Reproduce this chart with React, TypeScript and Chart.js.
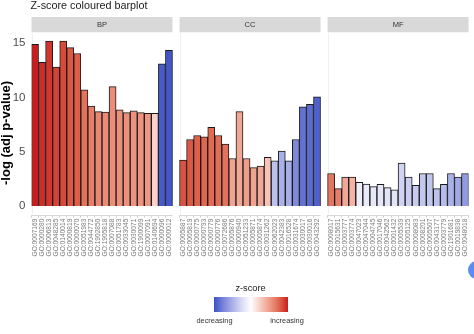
import React, { useEffect, useRef } from "react";
import { Chart, registerables } from "chart.js";
Chart.register(...registerables);

const panelNames = ["BP", "CC", "MF"];

const bpTerms = ["GO:0007169","GO:0000280","GO:0006813","GO:0048285","GO:0140014","GO:0000819","GO:0000070","GO:0051983","GO:0044772","GO:1902850","GO:1905818","GO:0007088","GO:0051783","GO:0033045","GO:0030071","GO:1900099","GO:0007091","GO:0140694","GO:0000096","GO:0000012"];
const bpValues = [14.9, 13.25, 15.2, 12.8, 15.2, 14.6, 14.05, 10.7, 9.2, 8.7, 8.65, 11.0, 8.86, 8.6, 8.77, 8.6, 8.53, 8.53, 13.1, 14.35];
const bpZ = [1.0, 0.95, 0.92, 0.88, 0.85, 0.8, 0.78, 0.7, 0.64, 0.6, 0.58, 0.57, 0.56, 0.56, 0.55, 0.55, 0.53, 0.22, -0.95, -0.97];

const ccTerms = ["GO:0005887","GO:0005819","GO:0000775","GO:0000793","GO:0000779","GO:0000776","GO:0072686","GO:0005876","GO:0000940","GO:0051233","GO:0005871","GO:0005874","GO:0031262","GO:0062023","GO:0042383","GO:0016528","GO:0031674","GO:0030017","GO:0030016","GO:0043292"];
const ccValues = [4.23, 6.13, 6.5, 6.38, 7.24, 6.5, 5.7, 4.38, 8.7, 4.38, 3.53, 3.68, 4.48, 4.17, 5.06, 4.17, 6.13, 9.14, 9.38, 10.06];
const ccZ = [0.82, 0.8, 0.77, 0.75, 0.73, 0.72, 0.7, 0.47, 0.45, 0.5, 0.47, 0.45, 0.3, -0.4, -0.5, -0.52, -0.72, -0.84, -0.87, -0.92];

const mfTerms = ["GO:0008017","GO:0015631","GO:0003777","GO:0003774","GO:0047023","GO:0047044","GO:0004745","GO:0017046","GO:0042562","GO:0001432","GO:0005539","GO:0005125","GO:0008083","GO:0008201","GO:0005507","GO:0043177","GO:0003779","GO:1901681","GO:0019838","GO:0048018"];
const mfValues = [3.0, 1.6, 2.67, 2.67, 2.18, 2.02, 1.78, 2.0, 1.69, 1.5, 3.96, 2.67, 1.9, 3.0, 3.0, 1.6, 2.0, 3.0, 2.67, 3.0];
const mfZ = [0.68, 0.64, 0.45, 0.38, -0.12, -0.14, -0.16, -0.17, -0.19, -0.2, -0.3, -0.33, -0.35, -0.37, -0.38, -0.4, -0.43, -0.5, -0.55, -0.62];

const yTicks = [0, 5, 10, 15];
const legendTitle = "z-score";
const legendLow = "decreasing";
const legendHigh = "increasing";
const chartTitle = "Z-score coloured barplot";
const yTitle = "-log (adj p-value)";

const RED_STOPS = ["#ffffff", "#f7cdc2", "#ef9d8a", "#e1664f", "#c81e1e"];
const BLUE_STOPS = ["#ffffff", "#d9dcf4", "#aab1e8", "#7884d9", "#3b50c6"];

function hexToRgb(h: string) {
  const n = parseInt(h.slice(1), 16);
  return [(n >> 16) & 255, (n >> 8) & 255, n & 255];
}
function zColor(z: number) {
  const stops = z >= 0 ? RED_STOPS : BLUE_STOPS;
  const t = Math.min(1, Math.abs(z)) * (stops.length - 1);
  const i = Math.min(stops.length - 2, Math.floor(t));
  const f = t - i;
  const a = hexToRgb(stops[i]);
  const b = hexToRgb(stops[i + 1]);
  const c = a.map((v, k) => Math.round(v + (b[k] - v) * f));
  return `rgb(${c[0]},${c[1]},${c[2]})`;
}

export default function App() {
  const ref = useRef<HTMLCanvasElement>(null);
  useEffect(() => {
    const groups: [string[], number[], number[]][] = [
      [bpTerms, bpValues, bpZ],
      [ccTerms, ccValues, ccZ],
      [mfTerms, mfValues, mfZ],
    ];
    const labels: string[] = [];
    const values: (number | null)[] = [];
    const colors: string[] = [];
    const isGap: boolean[] = [];
    const panelRanges: [number, number][] = [];
    groups.forEach((g, gi) => {
      if (gi > 0) {
        labels.push("");
        values.push(null);
        colors.push("rgba(0,0,0,0)");
        isGap.push(true);
      }
      const start = labels.length;
      g[0].forEach((t, i) => {
        labels.push(t);
        values.push(g[1][i]);
        colors.push(zColor(g[2][i]));
        isGap.push(false);
      });
      panelRanges.push([start, labels.length - 1]);
    });

    const overlay = {
      id: "overlay",
      beforeDatasetsDraw(chart: any) {
        const ctx = chart.ctx;
        const xs = chart.scales.x;
        const area = chart.chartArea;
        const w = xs.width / labels.length;
        ctx.save();
        panelRanges.forEach(([a, b]) => {
          const l = xs.getPixelForValue(a) - w / 2;
          const r = xs.getPixelForValue(b) + w / 2;
          ctx.strokeStyle = "#efefef";
          ctx.lineWidth = 1;
          ctx.beginPath();
          ctx.moveTo(Math.round(l) + 0.5, area.top);
          ctx.lineTo(Math.round(l) + 0.5, area.bottom);
          ctx.stroke();
          ctx.strokeStyle = "#d9d9d9";
          ctx.beginPath();
          ctx.moveTo(l, Math.round(area.bottom) + 0.5);
          ctx.lineTo(r, Math.round(area.bottom) + 0.5);
          ctx.stroke();
        });
        ctx.restore();
      },
      afterDraw(chart: any) {
        const ctx = chart.ctx;
        const xs = chart.scales.x;
        const w = xs.width / labels.length;
        ctx.save();
        // title
        ctx.fillStyle = "#1a1a1a";
        ctx.font = "10.8px 'Liberation Sans', Arial, sans-serif";
        ctx.textAlign = "left";
        ctx.textBaseline = "middle";
        ctx.fillText(chartTitle, 30.5, 6.5);
        // strips
        panelRanges.forEach(([a, b], pi) => {
          const l = xs.getPixelForValue(a) - w / 2;
          const r = xs.getPixelForValue(b) + w / 2;
          ctx.fillStyle = "#d9d9d9";
          ctx.fillRect(l, 17, r - l, 15.3);
          ctx.fillStyle = "#333333";
          ctx.font = "7.5px 'Liberation Sans', Arial, sans-serif";
          ctx.textAlign = "center";
          ctx.textBaseline = "middle";
          ctx.fillText(panelNames[pi], (l + r) / 2, 25);
        });
        // y title
        ctx.save();
        ctx.translate(6.5, 133);
        ctx.rotate(-Math.PI / 2);
        ctx.fillStyle = "#000";
        ctx.font = "bold 13px 'Liberation Sans', Arial, sans-serif";
        ctx.textAlign = "center";
        ctx.textBaseline = "middle";
        ctx.fillText(yTitle, 0, 0);
        ctx.restore();
        // legend
        ctx.fillStyle = "#1a1a1a";
        ctx.font = "9.2px 'Liberation Sans', Arial, sans-serif";
        ctx.textAlign = "center";
        ctx.textBaseline = "middle";
        ctx.fillText(legendTitle, 250.5, 288.5);
        const gx = 214, gy = 297, gw = 74, gh = 15;
        const grad = ctx.createLinearGradient(gx, 0, gx + gw, 0);
        for (let i = 0; i <= 20; i++) {
          const z = -1 + (2 * i) / 20;
          grad.addColorStop(i / 20, zColor(z));
        }
        ctx.fillStyle = grad;
        ctx.fillRect(gx, gy, gw, gh);
        ctx.fillStyle = "#333333";
        ctx.font = "7.4px 'Liberation Sans', Arial, sans-serif";
        ctx.fillText(legendLow, 214.5, 320.5);
        ctx.fillText(legendHigh, 287, 320.5);
        // side dot
        ctx.fillStyle = "#5b8cf0";
        ctx.beginPath();
        ctx.arc(477, 270, 9, 0, Math.PI * 2);
        ctx.fill();
        ctx.restore();
      },
    };

    const chart = new Chart(ref.current!, {
      type: "bar",
      data: {
        labels,
        datasets: [
          {
            data: values,
            backgroundColor: colors,
            borderColor: "#1a1a1a",
            borderWidth: 1,
            barPercentage: 1,
            categoryPercentage: 1,
          },
        ],
      },
      options: {
        responsive: false,
        animation: false,
        layout: { padding: { top: 32.9, right: 3.5, bottom: 69.3, left: 0 } },
        plugins: { legend: { display: false }, tooltip: { enabled: false }, title: { display: false } },
        scales: {
          x: {
            type: "category",
            afterFit(scale: any) {
              scale.height = 50;
            },
            border: { display: false },
            grid: {
              drawOnChartArea: false,
              drawTicks: true,
              tickLength: 3,
              color: (c: any) => (isGap[c.index] ? "rgba(0,0,0,0)" : "#cfcfcf"),
            },
            ticks: {
              autoSkip: false,
              minRotation: 90,
              maxRotation: 90,
              padding: 1,
              color: "#7a7a7a",
              font: { size: 6.6, family: "'Liberation Sans', Arial, sans-serif" },
            },
          },
          y: {
            type: "linear",
            min: -0.8,
            max: 15.95,
            afterFit(scale: any) {
              scale.width = 31.5;
            },
            afterBuildTicks(scale: any) {
              scale.ticks = yTicks.map((v) => ({ value: v }));
            },
            border: { display: false },
            grid: { display: false, drawTicks: false },
            ticks: {
              padding: 6,
              color: "#4d4d4d",
              font: { size: 11.5, family: "'Liberation Sans', Arial, sans-serif" },
            },
          },
        },
      },
      plugins: [overlay],
    });
    return () => chart.destroy();
  }, []);
  return (
    <div style={{ position: "fixed", left: 0, top: 0, width: 474, height: 334, background: "#fff", overflow: "hidden" }}>
      <canvas ref={ref} width={474} height={334} style={{ display: "block" }} />
    </div>
  );
}
